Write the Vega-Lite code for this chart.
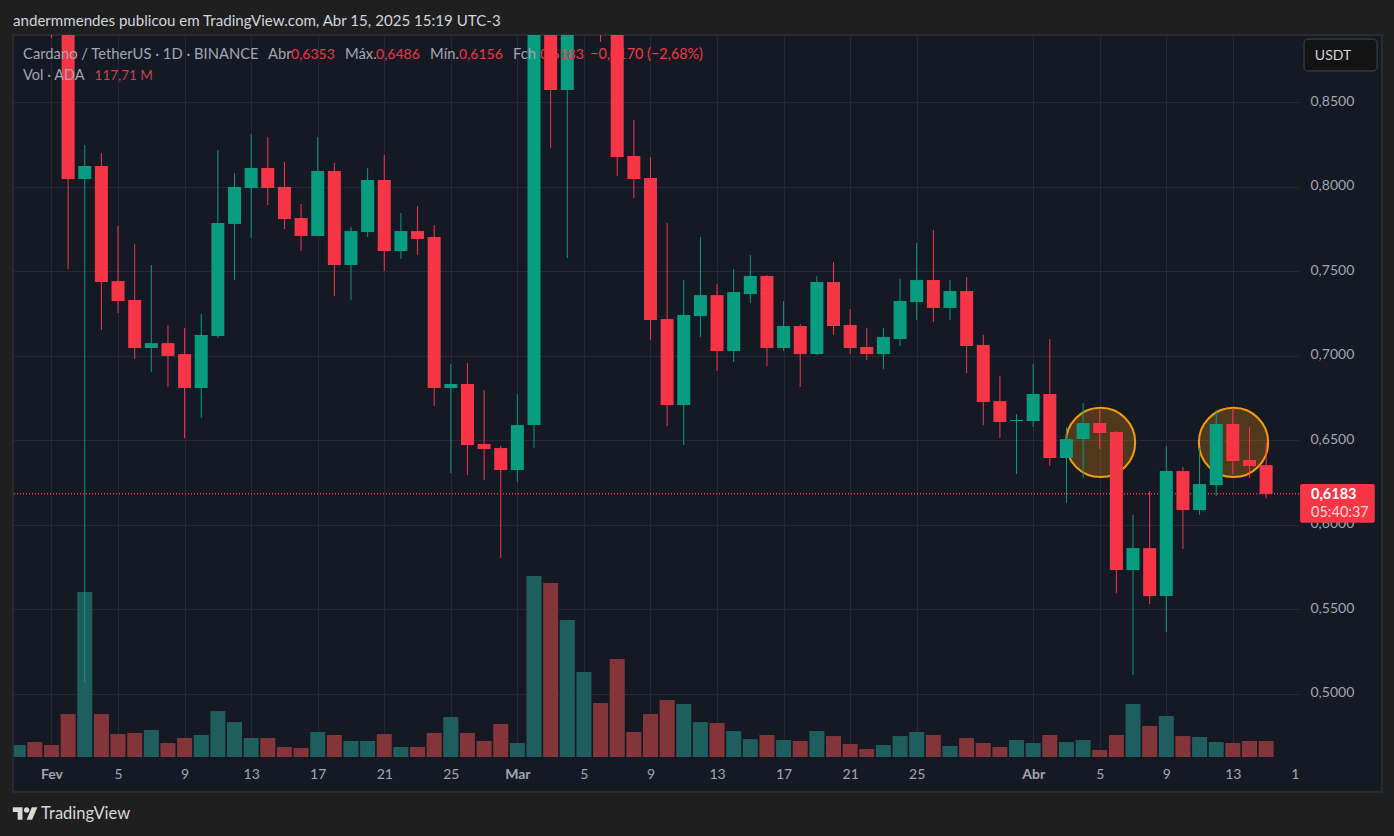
{"$schema":"https://vega.github.io/schema/vega-lite/v6.json","width":1286,"height":722,"autosize":"none","padding":{"left":13,"top":35,"right":95,"bottom":79},"background":"#151924","config":{"view":{"stroke":null},"text":{"font":"Lato"},"axis":{"labelFont":"Lato"}},
"datasets":{"candles":[
{"day":-2,"date":"2025-01-30","open":0.93,"high":0.97,"low":0.9,"close":0.95,"volume":88,"dir":"up"},
{"day":-1,"date":"2025-01-31","open":0.97,"high":0.98,"low":0.9,"close":0.93,"volume":110,"dir":"down"},
{"day":0,"date":"2025-02-01","open":0.95,"high":0.96,"low":0.888,"close":0.9,"volume":88,"dir":"down"},
{"day":1,"date":"2025-02-02","open":0.9,"high":0.92,"low":0.7513,"close":0.8046,"volume":316,"dir":"down"},
{"day":2,"date":"2025-02-03","open":0.8046,"high":0.8247,"low":0.5066,"close":0.8123,"volume":1214,"dir":"up"},
{"day":3,"date":"2025-02-04","open":0.8123,"high":0.82,"low":0.7152,"close":0.7436,"volume":316,"dir":"down"},
{"day":4,"date":"2025-02-05","open":0.7442,"high":0.7768,"low":0.7253,"close":0.7324,"volume":169,"dir":"down"},
{"day":5,"date":"2025-02-06","open":0.733,"high":0.7661,"low":0.6981,"close":0.7046,"volume":177,"dir":"down"},
{"day":6,"date":"2025-02-07","open":0.7046,"high":0.7537,"low":0.6904,"close":0.7075,"volume":199,"dir":"up"},
{"day":7,"date":"2025-02-08","open":0.7075,"high":0.7182,"low":0.6815,"close":0.6999,"volume":103,"dir":"down"},
{"day":8,"date":"2025-02-09","open":0.701,"high":0.7164,"low":0.6513,"close":0.6809,"volume":140,"dir":"down"},
{"day":9,"date":"2025-02-10","open":0.6809,"high":0.7247,"low":0.6632,"close":0.7123,"volume":162,"dir":"up"},
{"day":10,"date":"2025-02-11","open":0.7117,"high":0.8218,"low":0.7105,"close":0.7786,"volume":338,"dir":"up"},
{"day":11,"date":"2025-02-12","open":0.778,"high":0.8081,"low":0.7448,"close":0.7999,"volume":257,"dir":"up"},
{"day":12,"date":"2025-02-13","open":0.7993,"high":0.8312,"low":0.7697,"close":0.8111,"volume":140,"dir":"up"},
{"day":13,"date":"2025-02-14","open":0.8111,"high":0.8294,"low":0.7892,"close":0.7993,"volume":140,"dir":"down"},
{"day":14,"date":"2025-02-15","open":0.7999,"high":0.8146,"low":0.775,"close":0.7809,"volume":74,"dir":"down"},
{"day":15,"date":"2025-02-16","open":0.7815,"high":0.7898,"low":0.762,"close":0.7709,"volume":66,"dir":"down"},
{"day":16,"date":"2025-02-17","open":0.7709,"high":0.8294,"low":0.7709,"close":0.8093,"volume":184,"dir":"up"},
{"day":17,"date":"2025-02-18","open":0.8093,"high":0.8141,"low":0.7354,"close":0.7537,"volume":162,"dir":"down"},
{"day":18,"date":"2025-02-19","open":0.7537,"high":0.7762,"low":0.733,"close":0.7738,"volume":118,"dir":"up"},
{"day":19,"date":"2025-02-20","open":0.7732,"high":0.8111,"low":0.7703,"close":0.804,"volume":118,"dir":"up"},
{"day":20,"date":"2025-02-21","open":0.804,"high":0.8188,"low":0.7501,"close":0.762,"volume":169,"dir":"down"},
{"day":21,"date":"2025-02-22","open":0.762,"high":0.7845,"low":0.7573,"close":0.7738,"volume":74,"dir":"up"},
{"day":22,"date":"2025-02-23","open":0.7738,"high":0.7886,"low":0.7596,"close":0.7691,"volume":74,"dir":"down"},
{"day":23,"date":"2025-02-24","open":0.7703,"high":0.7774,"low":0.6703,"close":0.6809,"volume":177,"dir":"down"},
{"day":24,"date":"2025-02-25","open":0.6809,"high":0.6951,"low":0.6306,"close":0.6833,"volume":294,"dir":"up"},
{"day":25,"date":"2025-02-26","open":0.6833,"high":0.6957,"low":0.6294,"close":0.6472,"volume":177,"dir":"down"},
{"day":26,"date":"2025-02-27","open":0.6478,"high":0.6797,"low":0.6265,"close":0.6448,"volume":118,"dir":"down"},
{"day":27,"date":"2025-02-28","open":0.6454,"high":0.6466,"low":0.5803,"close":0.6324,"volume":243,"dir":"down"},
{"day":28,"date":"2025-03-01","open":0.6324,"high":0.6774,"low":0.6253,"close":0.659,"volume":103,"dir":"up"},
{"day":29,"date":"2025-03-02","open":0.659,"high":1.0,"low":0.6454,"close":0.95,"volume":1332,"dir":"up"},
{"day":30,"date":"2025-03-03","open":0.98,"high":1.02,"low":0.8229,"close":0.8573,"volume":1280,"dir":"down"},
{"day":31,"date":"2025-03-04","open":0.8573,"high":0.97,"low":0.7578,"close":0.94,"volume":1008,"dir":"up"},
{"day":32,"date":"2025-03-05","open":0.9,"high":0.98,"low":0.892,"close":0.96,"volume":625,"dir":"up"},
{"day":33,"date":"2025-03-06","open":0.94,"high":0.96,"low":0.8857,"close":0.9,"volume":397,"dir":"down"},
{"day":34,"date":"2025-03-07","open":0.9,"high":0.92,"low":0.8065,"close":0.8176,"volume":721,"dir":"down"},
{"day":35,"date":"2025-03-08","open":0.8182,"high":0.8395,"low":0.7933,"close":0.8046,"volume":184,"dir":"down"},
{"day":36,"date":"2025-03-09","open":0.8052,"high":0.8176,"low":0.7093,"close":0.7212,"volume":316,"dir":"down"},
{"day":37,"date":"2025-03-10","open":0.7217,"high":0.7786,"low":0.6584,"close":0.6709,"volume":419,"dir":"down"},
{"day":38,"date":"2025-03-11","open":0.6709,"high":0.7448,"low":0.6472,"close":0.7241,"volume":390,"dir":"up"},
{"day":39,"date":"2025-03-12","open":0.7235,"high":0.7703,"low":0.7111,"close":0.7359,"volume":257,"dir":"up"},
{"day":40,"date":"2025-03-13","open":0.7359,"high":0.7425,"low":0.691,"close":0.7028,"volume":250,"dir":"down"},
{"day":41,"date":"2025-03-14","open":0.7028,"high":0.7513,"low":0.6963,"close":0.7377,"volume":191,"dir":"up"},
{"day":42,"date":"2025-03-15","open":0.7365,"high":0.7596,"low":0.7312,"close":0.7472,"volume":132,"dir":"up"},
{"day":43,"date":"2025-03-16","open":0.7472,"high":0.7478,"low":0.6939,"close":0.7046,"volume":162,"dir":"down"},
{"day":44,"date":"2025-03-17","open":0.7046,"high":0.7324,"low":0.7028,"close":0.7176,"volume":125,"dir":"up"},
{"day":45,"date":"2025-03-18","open":0.7176,"high":0.7188,"low":0.6815,"close":0.701,"volume":118,"dir":"down"},
{"day":46,"date":"2025-03-19","open":0.701,"high":0.7472,"low":0.7005,"close":0.7436,"volume":191,"dir":"up"},
{"day":47,"date":"2025-03-20","open":0.7436,"high":0.7555,"low":0.7123,"close":0.7176,"volume":154,"dir":"down"},
{"day":48,"date":"2025-03-21","open":0.7182,"high":0.7277,"low":0.701,"close":0.7046,"volume":96,"dir":"down"},
{"day":49,"date":"2025-03-22","open":0.7052,"high":0.7164,"low":0.6975,"close":0.701,"volume":59,"dir":"down"},
{"day":50,"date":"2025-03-23","open":0.701,"high":0.7164,"low":0.6922,"close":0.7111,"volume":88,"dir":"up"},
{"day":51,"date":"2025-03-24","open":0.7099,"high":0.7454,"low":0.7058,"close":0.7324,"volume":154,"dir":"up"},
{"day":52,"date":"2025-03-25","open":0.7318,"high":0.7667,"low":0.7212,"close":0.7448,"volume":184,"dir":"up"},
{"day":53,"date":"2025-03-26","open":0.7448,"high":0.7744,"low":0.72,"close":0.7283,"volume":162,"dir":"down"},
{"day":54,"date":"2025-03-27","open":0.7283,"high":0.7448,"low":0.7212,"close":0.7383,"volume":81,"dir":"up"},
{"day":55,"date":"2025-03-28","open":0.7383,"high":0.7466,"low":0.6898,"close":0.7058,"volume":140,"dir":"down"},
{"day":56,"date":"2025-03-29","open":0.7064,"high":0.7123,"low":0.659,"close":0.6726,"volume":103,"dir":"down"},
{"day":57,"date":"2025-03-30","open":0.6732,"high":0.688,"low":0.6513,"close":0.6608,"volume":74,"dir":"down"},
{"day":58,"date":"2025-03-31","open":0.6614,"high":0.6655,"low":0.63,"close":0.662,"volume":125,"dir":"up"},
{"day":59,"date":"2025-04-01","open":0.6614,"high":0.6951,"low":0.6578,"close":0.6774,"volume":103,"dir":"up"},
{"day":60,"date":"2025-04-02","open":0.6774,"high":0.7099,"low":0.6348,"close":0.6395,"volume":162,"dir":"down"},
{"day":61,"date":"2025-04-03","open":0.6395,"high":0.6578,"low":0.6129,"close":0.6507,"volume":110,"dir":"up"},
{"day":62,"date":"2025-04-04","open":0.6507,"high":0.672,"low":0.6277,"close":0.6602,"volume":125,"dir":"up"},
{"day":63,"date":"2025-04-05","open":0.6602,"high":0.6679,"low":0.6448,"close":0.6543,"volume":52,"dir":"down"},
{"day":64,"date":"2025-04-06","open":0.6549,"high":0.6555,"low":0.5596,"close":0.5732,"volume":162,"dir":"down"},
{"day":65,"date":"2025-04-07","open":0.5732,"high":0.6058,"low":0.5111,"close":0.5862,"volume":390,"dir":"up"},
{"day":66,"date":"2025-04-08","open":0.5862,"high":0.62,"low":0.5531,"close":0.5578,"volume":228,"dir":"down"},
{"day":67,"date":"2025-04-09","open":0.5578,"high":0.6466,"low":0.5365,"close":0.6318,"volume":302,"dir":"up"},
{"day":68,"date":"2025-04-10","open":0.6318,"high":0.6342,"low":0.5857,"close":0.6087,"volume":154,"dir":"down"},
{"day":69,"date":"2025-04-11","open":0.6087,"high":0.6454,"low":0.6058,"close":0.6241,"volume":147,"dir":"up"},
{"day":70,"date":"2025-04-12","open":0.6235,"high":0.6679,"low":0.617,"close":0.6596,"volume":110,"dir":"up"},
{"day":71,"date":"2025-04-13","open":0.6596,"high":0.6691,"low":0.63,"close":0.6377,"volume":103,"dir":"down"},
{"day":72,"date":"2025-04-14","open":0.6383,"high":0.6578,"low":0.6277,"close":0.6348,"volume":118,"dir":"down"},
{"day":73,"date":"2025-04-15","open":0.6353,"high":0.6486,"low":0.6156,"close":0.6183,"volume":117.71,"dir":"down"}
]},
"resolve":{"scale":{"y":"independent","color":"independent"}},
"layer":[
{"data":{"name":"candles"},"mark":{"type":"bar","size":15,"clip":true},"encoding":{
"x":{"field":"day","type":"quantitative","scale":{"domain":[-2.313,74.976],"nice":false,"zero":false,"padding":0},"axis":{"title":null,"values":[0,4,8,12,16,20,24,28,32,36,40,44,48,52,59,63,67,71,74.73],"labelExpr":"datum.value>74?'1':datum.value==0?'Fev':datum.value==28?'Mar':datum.value==59?'Abr':utcdate(1738368000000+datum.value*86400000)","labelFontSize":14,"labelColor":"#a3a6af","labelPadding":10,"labelFontWeight":{"condition":{"test":"datum.value==0||datum.value==28||datum.value==59","value":"bold"},"value":"normal"},"labelAngle":0,"labelOverlap":false,"labelBound":false,"labelFlush":false,"domain":false,"ticks":false,"grid":true,"gridColor":"#252934","gridWidth":1,"gridOpacity":{"condition":{"test":"datum.value>74","value":0},"value":1}}},
"y":{"field":"volume","type":"quantitative","scale":{"domain":[0,5312],"nice":false},"axis":null},
"color":{"field":"dir","type":"nominal","scale":{"domain":["up","down"],"range":["#1e5e5e","#833539"]},"legend":null}}},
{"data":{"values":[{}]},"layer":[
{"mark":{"type":"rect","fill":"#1f1f1f"},"encoding":{"x":{"datum":-3.09},"x2":{"datum":-2.313},"y":{"datum":0.9105,"type":"quantitative","scale":{"domain":[0.4626,0.8898],"nice":false,"zero":false},"axis":{"title":null,"orient":"right","values":[0.5,0.55,0.6,0.65,0.7,0.75,0.8,0.85],"labelExpr":"replace(format(datum.value,'.4f'),'.',',')","labelFontSize":14,"labelColor":"#a3a6af","labelPadding":11,"labelOffset":-1,"domain":false,"ticks":false,"grid":true,"gridColor":"#252934","gridWidth":1}},"y2":{"datum":0.4158}}},
{"mark":{"type":"rect","fill":"#1f1f1f"},"encoding":{"x":{"datum":79.96},"x2":{"datum":80.69},"y":{"datum":0.9105},"y2":{"datum":0.4158}}},
{"mark":{"type":"rect","fill":"#1f1f1f"},"encoding":{"x":{"datum":-3.09},"x2":{"datum":80.69},"y":{"datum":0.9105},"y2":{"datum":0.8898}}},
{"mark":{"type":"rect","fill":"#1f1f1f"},"encoding":{"x":{"datum":-3.09},"x2":{"datum":80.69},"y":{"datum":0.4419},"y2":{"datum":0.4158}}},
{"mark":{"type":"rect","fill":null,"stroke":"#2a2b2f","strokeWidth":2},"encoding":{"x":{"datum":-2.313},"x2":{"datum":79.96},"y":{"datum":0.8898},"y2":{"datum":0.4419}}},
{"data":{"values":[{"day":63.05,"price":0.6487},{"day":71.04,"price":0.6487}]},"mark":{"type":"point","shape":"circle","filled":true,"fill":"#ff9800","fillOpacity":0.25,"stroke":"#f59c0a","strokeWidth":2,"strokeOpacity":1,"size":4800,"opacity":1},"encoding":{"x":{"field":"day","type":"quantitative"},"y":{"field":"price","type":"quantitative"}}},
{"mark":{"type":"rule","color":"#f63646","strokeWidth":1.5,"strokeDash":[1,2]},"encoding":{"y":{"datum":0.6183}}},
{"data":{"name":"candles"},"mark":{"type":"rule","strokeWidth":1,"clip":true},"encoding":{"x":{"field":"day","type":"quantitative"},"y":{"field":"low","type":"quantitative"},"y2":{"field":"high"},"color":{"field":"dir","type":"nominal","scale":{"domain":["up","down"],"range":["#089c80","#f63646"]},"legend":null}}},
{"data":{"name":"candles"},"mark":{"type":"bar","size":13,"clip":true},"encoding":{"x":{"field":"day","type":"quantitative"},"y":{"field":"open","type":"quantitative"},"y2":{"field":"close"},"color":{"field":"dir","type":"nominal","legend":null}}},
{"mark":{"type":"rect","fill":"#f63646","cornerRadius":2},"encoding":{"x":{"datum":75.04},"x2":{"datum":79.53},"y":{"datum":0.6241},"y2":{"datum":0.6012}}},
{"mark":{"type":"rect","fill":"#131313","stroke":"#434651","strokeWidth":1,"cornerRadius":4},"encoding":{"x":{"datum":75.28},"x2":{"datum":79.67},"y":{"datum":0.8874},"y2":{"datum":0.8685}}},
{"mark":{"type":"text","text":"USDT","align":"left","baseline":"middle","fontSize":14,"color":"#d1d4dc"},"encoding":{"x":{"datum":75.93},"y":{"datum":0.8774}}},
{"mark":{"type":"text","text":"0,6183","align":"left","baseline":"middle","fontSize":14.5,"fontWeight":"bold","color":"#ffffff"},"encoding":{"x":{"datum":75.7},"y":{"datum":0.6179}}},
{"mark":{"type":"text","text":"05:40:37","align":"left","baseline":"middle","fontSize":14.5,"color":"#fbd5d8"},"encoding":{"x":{"datum":75.7},"y":{"datum":0.607}}},
{"mark":{"type":"text","text":"andermmendes publicou em TradingView.com, Abr 15, 2025 15:19 UTC-3","align":"left","baseline":"middle","fontSize":15.1,"color":"#d1d4dc"},"encoding":{"x":{"datum":-2.313},"y":{"datum":0.8981}}},
{"mark":{"type":"text","text":"Cardano / TetherUS · 1D · BINANCE","align":"left","baseline":"middle","fontSize":14.75,"color":"#a3a6af"},"encoding":{"x":{"datum":-1.707},"y":{"datum":0.8779}}},
{"mark":{"type":"text","text":"Abr","align":"left","baseline":"middle","fontSize":14.75,"color":"#a3a6af"},"encoding":{"x":{"datum":13.017},"y":{"datum":0.8779}}},
{"mark":{"type":"text","text":"0,6353","align":"left","baseline":"middle","fontSize":14,"color":"#f23645"},"encoding":{"x":{"datum":14.399},"y":{"datum":0.8779}}},
{"mark":{"type":"text","text":"Máx.","align":"left","baseline":"middle","fontSize":14.75,"color":"#a3a6af"},"encoding":{"x":{"datum":17.644},"y":{"datum":0.8779}}},
{"mark":{"type":"text","text":"0,6486","align":"left","baseline":"middle","fontSize":14,"color":"#f23645"},"encoding":{"x":{"datum":19.507},"y":{"datum":0.8779}}},
{"mark":{"type":"text","text":"Mín.","align":"left","baseline":"middle","fontSize":14.75,"color":"#a3a6af"},"encoding":{"x":{"datum":22.752},"y":{"datum":0.8779}}},
{"mark":{"type":"text","text":"0,6156","align":"left","baseline":"middle","fontSize":14,"color":"#f23645"},"encoding":{"x":{"datum":24.495},"y":{"datum":0.8779}}},
{"mark":{"type":"text","text":"Fch","align":"left","baseline":"middle","fontSize":14.75,"color":"#a3a6af"},"encoding":{"x":{"datum":27.74},"y":{"datum":0.8779}}},
{"mark":{"type":"text","text":"0,6183","align":"left","baseline":"middle","fontSize":14,"color":"#f63646"},"encoding":{"x":{"datum":29.363},"y":{"datum":0.8779}}},
{"mark":{"type":"text","text":"−0,0170 (−2,68%)","align":"left","baseline":"middle","fontSize":14.4,"color":"#f63646"},"encoding":{"x":{"datum":32.368},"y":{"datum":0.8779}}},
{"mark":{"type":"text","text":"Vol · ADA","align":"left","baseline":"middle","fontSize":14.5,"color":"#a3a6af"},"encoding":{"x":{"datum":-1.707},"y":{"datum":0.8655}}},
{"mark":{"type":"text","text":"117,71 M","align":"left","baseline":"middle","fontSize":13.5,"color":"#c9434f"},"encoding":{"x":{"datum":2.59},"y":{"datum":0.8655}}},
{"mark":{"type":"point","shape":"M-0.211,0.507L-0.606,0.507L-0.606,-0.113L-1,-0.113L-1,-0.507L-0.211,-0.507ZM0.577,0.507L0.127,0.507L0.549,-0.507L1,-0.507ZM-0.098,-0.282a0.225,0.225 0 1,0 0.45,0a0.225,0.225 0 1,0 -0.45,0Z","filled":true,"fill":"#d8d8d8","stroke":null,"size":600,"opacity":1},"encoding":{"x":{"datum":-1.587},"y":{"datum":0.4292}}},
{"mark":{"type":"text","text":"TradingView","align":"left","baseline":"middle","fontSize":16.5,"color":"#d8d8d8"},"encoding":{"x":{"datum":-0.625},"y":{"datum":0.4289}}}
]}
]}
